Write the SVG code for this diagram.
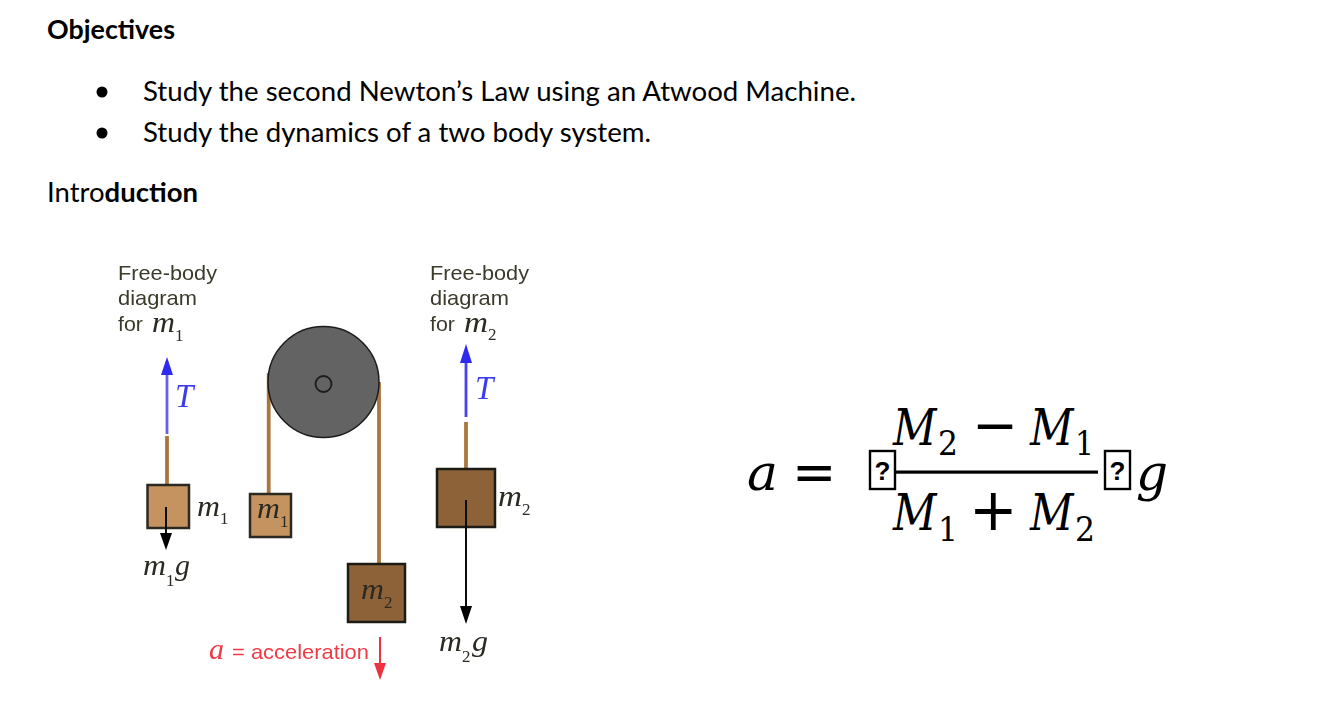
<svg xmlns="http://www.w3.org/2000/svg" width="1336" height="728" viewBox="0 0 1336 728">
<style>
.doc{font-family:"Lato","Open Sans",sans-serif;font-size:27px;fill:#000}
.b{font-weight:700}
.lab{font-family:"Liberation Sans",Arial,sans-serif;font-size:21px;fill:#3b3a2c}
.mi{font-family:"Liberation Serif","Times New Roman",serif;font-style:italic;font-size:29px;fill:#2b2a22}
.sub{font-family:"Liberation Serif","Times New Roman",serif;font-size:17px;fill:#2b2a22}
.tt{font-family:"Liberation Serif","Times New Roman",serif;font-style:italic;font-size:33px;fill:#3a3af0}
.eq{font-family:"DejaVu Serif","Liberation Serif",serif;font-style:italic;font-size:50px;fill:#000}
.eqn{font-family:"DejaVu Serif","Liberation Serif",serif;font-size:33px;fill:#000}
.op{font-family:"DejaVu Sans","Liberation Sans",sans-serif;fill:#000}
.q{font-family:"Liberation Sans",sans-serif;font-weight:700;font-size:26px;fill:#000;text-anchor:middle}
.rope{stroke:#a8763f;stroke-width:3.8;fill:none}
.m1{fill:#c4935f;stroke:#2c2a24;stroke-width:2.5}
.m2{fill:#8e6237;stroke:#1d1a14;stroke-width:2.5}
.box{fill:#fff;stroke:#000;stroke-width:2.4}
</style>
<defs><filter id="soft" x="-5%" y="-5%" width="110%" height="110%"><feGaussianBlur stdDeviation="0.7"/></filter></defs>
<rect width="1336" height="728" fill="#fff"/>
<g id="heading-objectives"><text class="doc b" x="47" y="39" textLength="128" lengthAdjust="spacingAndGlyphs">Objectives</text></g>
<g id="bullets">
<circle cx="102" cy="92" r="5.500" fill="#000"/>
<text class="doc" x="143" y="101" textLength="713" lengthAdjust="spacingAndGlyphs">Study the second Newton’s Law using an Atwood Machine.</text>
<circle cx="102" cy="133" r="5.500" fill="#000"/>
<text class="doc" x="143" y="142" textLength="508" lengthAdjust="spacingAndGlyphs">Study the dynamics of a two body system.</text>
</g>
<g id="heading-introduction"><text class="doc" x="47" y="202" textLength="151" lengthAdjust="spacingAndGlyphs">Intro<tspan class="b">duction</tspan></text></g>

<g id="atwood" filter="url(#soft)">
<g id="connectors">
<line class="rope" x1="268.700" y1="373" x2="268.700" y2="494"/>
<line class="rope" x1="379" y1="382" x2="379" y2="564"/>
<line class="rope" x1="167" y1="436" x2="167" y2="485"/>
<line class="rope" x1="466" y1="422" x2="466" y2="469"/>
<g stroke="#6a5cf5" stroke-width="2.800" fill="#2f2cf0">
<line x1="167" y1="434" x2="167" y2="372"/><path d="M167 357l6 18h-12z" stroke="none"/>
<line x1="466" y1="417" x2="466" y2="360" stroke="#4a40f2"/><path d="M466 344l6 19h-12z" stroke="none"/>
</g>
</g>
<g id="pulley">
<circle cx="323.500" cy="382" r="55.500" fill="#636363" stroke="#1c1c1c" stroke-width="1.500"/>
<circle cx="323.500" cy="384" r="8" fill="#636363" stroke="#1c1c1c" stroke-width="1.800"/>
</g>
<g id="mass-m1-system"><rect class="m1" x="250" y="494" width="41" height="43"/><text class="mi" x="257" y="518" textLength="23" lengthAdjust="spacingAndGlyphs">m</text><text class="sub" x="280" y="527">1</text></g>
<g id="mass-m2-system"><rect class="m2" x="348" y="564" width="57" height="58"/><text class="mi" x="361" y="599" textLength="23" lengthAdjust="spacingAndGlyphs">m</text><text class="sub" x="384" y="608">2</text></g>
<g id="fbd-m1">
<rect class="m1" x="147.500" y="485" width="41.500" height="43"/>
<line x1="166" y1="507" x2="166" y2="535" stroke="#111" stroke-width="2"/><path d="M166 550l-6-17h12z" fill="#000"/>
<text class="lab" x="118" y="280" textLength="99" lengthAdjust="spacingAndGlyphs">Free-body</text><text class="lab" x="118" y="305" textLength="79" lengthAdjust="spacingAndGlyphs">diagram</text><text class="lab" x="118" y="331" textLength="25" lengthAdjust="spacingAndGlyphs">for</text>
<text class="mi" x="152" y="332" textLength="23" lengthAdjust="spacingAndGlyphs">m</text><text class="sub" x="175" y="341">1</text>
<text class="tt" x="175" y="407">T</text>
<text class="mi" x="197" y="516" textLength="23" lengthAdjust="spacingAndGlyphs">m</text><text class="sub" x="220" y="524">1</text>
<text class="mi" x="143" y="575" textLength="23" lengthAdjust="spacingAndGlyphs">m</text><text class="sub" x="166" y="586">1</text><text class="mi" x="175" y="575" textLength="15" lengthAdjust="spacingAndGlyphs">g</text>
</g>
<g id="fbd-m2">
<rect class="m2" x="437" y="469" width="58" height="58"/>
<line x1="466" y1="500" x2="466" y2="608" stroke="#111" stroke-width="2"/><path d="M466 624l-6-18h12z" fill="#000"/>
<text class="lab" x="430" y="280" textLength="99" lengthAdjust="spacingAndGlyphs">Free-body</text><text class="lab" x="430" y="305" textLength="79" lengthAdjust="spacingAndGlyphs">diagram</text><text class="lab" x="430" y="331" textLength="25" lengthAdjust="spacingAndGlyphs">for</text>
<text class="mi" x="464" y="332" textLength="24" lengthAdjust="spacingAndGlyphs">m</text><text class="sub" x="488" y="340">2</text>
<text class="tt" x="475" y="399">T</text>
<text class="mi" x="498" y="506" textLength="24" lengthAdjust="spacingAndGlyphs">m</text><text class="sub" x="522" y="515">2</text>
<text class="mi" x="439" y="651" textLength="23" lengthAdjust="spacingAndGlyphs">m</text><text class="sub" x="462" y="662">2</text><text class="mi" x="472" y="651" textLength="16" lengthAdjust="spacingAndGlyphs">g</text>
</g>
<g id="acceleration">
<text class="mi" x="209" y="659" textLength="15" lengthAdjust="spacingAndGlyphs" style="fill:#ee3b45">a</text>
<text class="lab" x="232" y="659" textLength="137" lengthAdjust="spacingAndGlyphs" style="fill:#ee3b45">= acceleration</text>
<line x1="380" y1="637" x2="380" y2="665" stroke="#ee3040" stroke-width="2"/><path d="M380 680l-6-17h12z" fill="#ee3040"/>
</g>
</g>

<g id="equation">
<text class="eq" x="747" y="490" textLength="31" lengthAdjust="spacingAndGlyphs">a</text>
<text class="op" x="792" y="490" font-size="53">=</text>
<rect class="box" x="870" y="451" width="25" height="38"/><text class="q" x="882.500" y="480">?</text>
<rect x="896" y="470.500" width="202" height="3.200" fill="#000"/>
<rect class="box" x="1105" y="451" width="25" height="38"/><text class="q" x="1117.500" y="480">?</text>
<text class="eq" x="1136" y="490" textLength="32" lengthAdjust="spacingAndGlyphs">g</text>
<text class="eq" transform="translate(893 445) scale(.85 1)">M</text><text class="eqn" x="938" y="455" textLength="20" lengthAdjust="spacingAndGlyphs">2</text>
<text class="op" x="972" y="444" font-size="55">−</text>
<text class="eq" transform="translate(1030 445) scale(.85 1)">M</text><text class="eqn" x="1075" y="455" textLength="19" lengthAdjust="spacingAndGlyphs">1</text>
<text class="eq" transform="translate(893 530) scale(.85 1)">M</text><text class="eqn" x="938" y="541" textLength="20" lengthAdjust="spacingAndGlyphs">1</text>
<text class="op" x="969" y="530" font-size="58">+</text>
<text class="eq" transform="translate(1030 530) scale(.85 1)">M</text><text class="eqn" x="1075" y="541" textLength="20" lengthAdjust="spacingAndGlyphs">2</text>
</g>
</svg>
